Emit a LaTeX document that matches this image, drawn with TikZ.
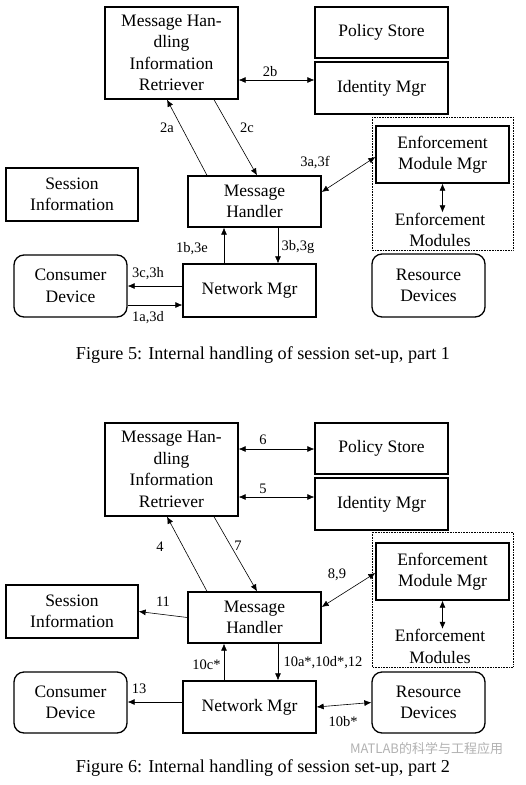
\documentclass[tikz,border=0pt]{standalone}
\usepackage{fontspec}
\setmainfont{Liberation Serif}
\newfontfamily\cjkfont{Noto Sans CJK SC}
\usetikzlibrary{arrows.meta}
\usetikzlibrary{positioning}

\begin{document}
\begin{tikzpicture}[x=1pt,y=-1pt,
  box/.style={draw,line width=1.3pt,align=center,inner sep=0pt,font=\fontsize{17.5}{21.5}\selectfont},
  rbox/.style={box,rounded corners=10pt},
  link/.style={-{Latex[length=7pt,width=6pt]},line width=0.6pt},
  dlink/.style={{Latex[length=7pt,width=6pt]}-{Latex[length=7pt,width=6pt]},line width=0.6pt},
  lbl/.style={inner sep=0pt,font=\fontsize{14.5}{16}\selectfont},
  captext/.style={inner sep=0pt,font=\fontsize{18.2}{21}\selectfont}]
\useasboundingbox[fill=white] (0,0) rectangle (526,785);

% Figure 5
\node[box,minimum width=133,minimum height=92] (mhir) at (171.5,53) {Message Han-\\dling\\Information\\Retriever};
\node[box,minimum width=133,minimum height=51] (ps) at (381.5,32.5) {Policy Store};
\node[box,minimum width=133,minimum height=52] (idm) at (381.5,88) {Identity Mgr};
\draw[densely dotted,line width=0.6pt] (372,117) rectangle (513,250);
\node[box,minimum width=133,minimum height=57] (emm) at (442.5,154.5) {Enforcement\\Module Mgr};
\node[box,draw=none] (em) at (440,230) {Enforcement\\Modules};
\node[box,minimum width=132,minimum height=53] (si) at (72,194.5) {Session\\Information};
\node[box,minimum width=133,minimum height=51] (mh) at (254.5,201.5) {Message\\Handler};
\node[box,minimum width=133,minimum height=53] (nm) at (249.5,290.5) {Network Mgr};
\node[rbox,minimum width=113,minimum height=62] (cd) at (70.5,286) {Consumer\\Device};
\node[rbox,minimum width=113,minimum height=63] (rd) at (428.5,285.5) {Resource\\Devices};

\draw[dlink] ([yshift=-27pt]mhir.east) coordinate (p) -- (p -| idm.west);
\node[lbl] (l2b) at (270,72) {2b};
\draw[link] ([xshift=-47.5pt]mh.north) -- ([xshift=-4.5pt]mhir.south);
\node[lbl] (l2a) at (167,128) {2a};
\draw[link] ([xshift=42.5pt]mhir.south) -- ([xshift=2.5pt]mh.north);
\node[lbl] (l2c) at (247,128) {2c};
\draw[dlink] ([yshift=9.5pt]mh.east) -- ([yshift=-2.5pt]emm.west);
\node[lbl] (l3a) at (315,163) {3a,3f};
\draw[dlink] (emm.south) -- (emm.south |- em.north);
\draw[link] ([xshift=-25.5pt]nm.north) coordinate (p) -- (p |- mh.south);
\node[lbl] (l1b) at (192,249) {1b,3e};
\draw[link] ([xshift=23.5pt]mh.south) coordinate (p) -- (p |- nm.north);
\node[lbl] (l3b) at (298,247) {3b,3g};
\draw[link] ([yshift=4.5pt]nm.west) coordinate (p) -- (p -| cd.east);
\node[lbl] (l3c) at (148,274) {3c,3h};
\draw[link] ([yshift=-19pt]cd.east) coordinate (p) -- (p -| nm.west);
\node[lbl] (l1a) at (148,318) {1a,3d};

\node[captext] (cap5) at (263,355) {Figure 5: Internal handling of session set-up, part 1};

% Figure 6
\node[box,minimum width=133,minimum height=93] (mhir2) at (171.5,469.5) {Message Han-\\dling\\Information\\Retriever};
\node[box,minimum width=133,minimum height=51] (ps2) at (381.5,448.5) {Policy Store};
\node[box,minimum width=133,minimum height=52] (idm2) at (381.5,504) {Identity Mgr};
\draw[densely dotted,line width=0.6pt] (372,532) rectangle (513,667);
\node[box,minimum width=133,minimum height=57] (emm2) at (442.5,571.5) {Enforcement\\Module Mgr};
\node[box,draw=none] (em2) at (440,646.5) {Enforcement\\Modules};
\node[box,minimum width=132,minimum height=53] (si2) at (72,611.5) {Session\\Information};
\node[box,minimum width=133,minimum height=51] (mh2) at (254.5,617.5) {Message\\Handler};
\node[box,minimum width=133,minimum height=52] (nm2) at (249.5,707) {Network Mgr};
\node[rbox,minimum width=113,minimum height=61] (cd2) at (70.5,702.5) {Consumer\\Device};
\node[rbox,minimum width=113,minimum height=61] (rd2) at (428.5,702.5) {Resource\\Devices};

\draw[dlink] ([yshift=20.5pt]mhir2.east) coordinate (p) -- (p -| ps2.west);
\node[lbl] (l6) at (263,440) {6};
\draw[dlink] ([yshift=-27.5pt]mhir2.east) coordinate (p) -- (p -| idm2.west);
\node[lbl] (l5) at (263,489) {5};
\draw[link] ([xshift=-47.5pt]mh2.north) -- ([xshift=-4.5pt]mhir2.south);
\node[lbl] (l4) at (160,547) {4};
\draw[link] ([xshift=42.5pt]mhir2.south) -- ([xshift=2.5pt]mh2.north);
\node[lbl] (l7) at (238,546) {7};
\draw[link] (mh2.west) -- (si2.east);
\node[lbl] (l11) at (163,602) {11};
\draw[dlink] ([yshift=10.5pt]mh2.east) -- ([yshift=-1.5pt]emm2.west);
\node[lbl] (l89) at (337,575) {8,9};
\draw[dlink] (emm2.south) -- (emm2.south |- em2.north);
\draw[link] ([xshift=-25.5pt]nm2.north) coordinate (p) -- (p |- mh2.south);
\node[lbl] (l10c) at (206.5,665) {10c*};
\draw[link] ([xshift=23.5pt]mh2.south) coordinate (p) -- (p |- nm2.north);
\node[lbl] (l10a) at (323,663) {10a*,10d*,12};
\draw[link] ([yshift=5pt]nm2.west) coordinate (p) -- (p -| cd2.east);
\node[lbl] (l13) at (139,689) {13};
\draw[dlink] (nm2.east) -- (rd2.west);
\node[lbl] (l10b) at (343,722) {10b*};

\node[captext] (cap6) at (263,768) {Figure 6: Internal handling of session set-up, part 2};
\node[inner sep=0pt,text=black!30,font=\cjkfont\fontsize{13}{15}\selectfont] (wm) at (426.5,749) {MATLAB的科学与工程应用};

\end{tikzpicture}
\end{document}
